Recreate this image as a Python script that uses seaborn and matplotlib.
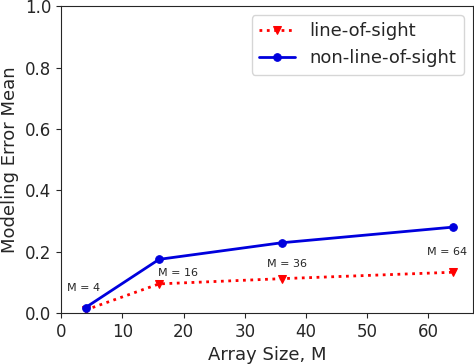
import numpy as np
import pandas as pd
import matplotlib
matplotlib.use("Agg")
import matplotlib.pyplot as plt
import seaborn as sns

array_size = [4, 16, 36, 64]
los_mean = [0.01, 0.095, 0.112, 0.133]
nlos_mean = [0.018, 0.175, 0.229, 0.280]
point_labels = ["M = 4", "M = 16", "M = 36", "M = 64"]
label_x = [1.0, 15.8, 33.6, 59.7]
label_y = [0.08, 0.13, 0.16, 0.20]

sns.set_style("ticks")
plt.rcParams["font.family"] = ["DejaVu Sans"]

fig = plt.figure(figsize=(4.74, 3.64), dpi=100)
ax = fig.add_axes([0.129, 0.14, 0.868, 0.843])

sns.lineplot(x=array_size, y=los_mean, ax=ax, color="red", linestyle=":",
             linewidth=2, marker="v", markersize=6, markeredgecolor="red",
             label="line-of-sight")
sns.lineplot(x=array_size, y=nlos_mean, ax=ax, color="#0000dd", linestyle="-",
             linewidth=2, marker="o", markersize=5.5, markeredgecolor="#0000dd",
             label="non-line-of-sight")

for lx, ly, txt in zip(label_x, label_y, point_labels):
    ax.text(lx, ly, txt, fontsize=8, ha="left", va="center")

ax.set_xlim(0, 67.2)
ax.set_ylim(0, 1.0)
ax.set_xticks([0, 10, 20, 30, 40, 50, 60])
ax.set_yticks([0.0, 0.2, 0.4, 0.6, 0.8, 1.0])
ax.tick_params(labelsize=12)
ax.set_xlabel("Array Size, M", fontsize=13)
ax.set_ylabel("Modeling Error Mean", fontsize=13)
ax.legend(loc="upper right", fontsize=13, frameon=True)

fig.savefig("out.png", dpi=100)
